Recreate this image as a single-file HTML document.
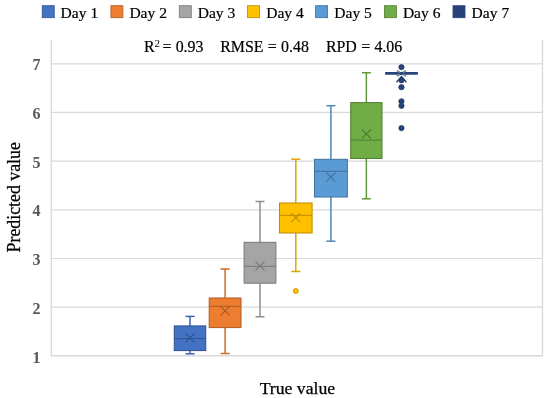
<!DOCTYPE html>
<html><head><meta charset="utf-8"><title>Box plot</title>
<style>
html,body{margin:0;padding:0;background:#fff;}
body{width:550px;height:398px;overflow:hidden;font-family:"Liberation Serif",serif;}
svg{display:block;}
text{font-family:"Liberation Serif",serif;}
</style></head><body>
<svg width="550" height="398" viewBox="0 0 550 398">
<rect width="550" height="398" fill="#fff"/>

<line x1="51" x2="542.5" y1="355.8" y2="355.8" stroke="#d9d9d9" stroke-width="1.5"/>
<line x1="51" x2="542.5" y1="307.1" y2="307.1" stroke="#d9d9d9" stroke-width="1.2"/>
<line x1="51" x2="542.5" y1="258.5" y2="258.5" stroke="#d9d9d9" stroke-width="1.2"/>
<line x1="51" x2="542.5" y1="209.8" y2="209.8" stroke="#d9d9d9" stroke-width="1.2"/>
<line x1="51" x2="542.5" y1="161.1" y2="161.1" stroke="#d9d9d9" stroke-width="1.2"/>
<line x1="51" x2="542.5" y1="112.4" y2="112.4" stroke="#d9d9d9" stroke-width="1.2"/>
<line x1="51" x2="542.5" y1="63.8" y2="63.8" stroke="#d9d9d9" stroke-width="1.2"/>
<line x1="51.25" x2="51.25" y1="39.5" y2="356.4" stroke="#d9d9d9" stroke-width="1.3"/>
<line x1="542.5" x2="542.5" y1="40" y2="356.4" stroke="#d9d9d9" stroke-width="1.3"/>
<text x="36.5" y="362.7" font-size="16" font-weight="bold" fill="#595959" text-anchor="middle">1</text>
<text x="36.5" y="313.9" font-size="16" font-weight="bold" fill="#595959" text-anchor="middle">2</text>
<text x="36.5" y="265.1" font-size="16" font-weight="bold" fill="#595959" text-anchor="middle">3</text>
<text x="36.5" y="216.3" font-size="16" font-weight="bold" fill="#595959" text-anchor="middle">4</text>
<text x="36.5" y="167.5" font-size="16" font-weight="bold" fill="#595959" text-anchor="middle">5</text>
<text x="36.5" y="118.8" font-size="16" font-weight="bold" fill="#595959" text-anchor="middle">6</text>
<text x="36.5" y="70.0" font-size="16" font-weight="bold" fill="#595959" text-anchor="middle">7</text>
<rect x="42.25" y="5.7" width="12" height="12" fill="#4472C4" stroke="#2F528F" stroke-width="0.8"/>
<text x="60.6" y="17.5" font-size="15.55" fill="#000" stroke="#000" stroke-width="0.2">Day 1</text>
<rect x="110.9" y="5.7" width="12" height="12" fill="#ED7D31" stroke="#AE5A21" stroke-width="0.8"/>
<text x="129.4" y="17.5" font-size="15.55" fill="#000" stroke="#000" stroke-width="0.2">Day 2</text>
<rect x="179.3" y="5.7" width="12" height="12" fill="#A5A5A5" stroke="#787878" stroke-width="0.8"/>
<text x="197.7" y="17.5" font-size="15.55" fill="#000" stroke="#000" stroke-width="0.2">Day 3</text>
<rect x="247.5" y="5.7" width="12" height="12" fill="#FFC000" stroke="#BC8C00" stroke-width="0.8"/>
<text x="266.2" y="17.5" font-size="15.55" fill="#000" stroke="#000" stroke-width="0.2">Day 4</text>
<rect x="315.6" y="5.7" width="12" height="12" fill="#5B9BD5" stroke="#41719C" stroke-width="0.8"/>
<text x="334.3" y="17.5" font-size="15.55" fill="#000" stroke="#000" stroke-width="0.2">Day 5</text>
<rect x="384.4" y="5.7" width="12" height="12" fill="#70AD47" stroke="#507E32" stroke-width="0.8"/>
<text x="402.9" y="17.5" font-size="15.55" fill="#000" stroke="#000" stroke-width="0.2">Day 6</text>
<rect x="453" y="5.7" width="12" height="12" fill="#264478" stroke="#264478" stroke-width="0.8"/>
<text x="471.6" y="17.5" font-size="15.55" fill="#000" stroke="#000" stroke-width="0.2">Day 7</text>
<text y="52.4" font-size="15.9" fill="#000" stroke="#000" stroke-width="0.2" word-spacing="0.35" xml:space="preserve"><tspan x="144">R</tspan><tspan x="154.6" y="47" font-size="11" stroke="none">2</tspan><tspan x="158.6" y="52.4"> </tspan><tspan x="162.4" y="52.4">= 0.93</tspan><tspan x="204" y="52.4">    </tspan><tspan x="220.2" y="52.4">RMSE = 0.48</tspan><tspan x="309" y="52.4">    </tspan><tspan x="325.9" y="52.4">RPD = 4.06</tspan></text>
<text x="297.4" y="393.8" font-size="17.7" fill="#000" stroke="#000" stroke-width="0.25" text-anchor="middle">True value</text>
<text transform="translate(20.3,197.3) rotate(-90) scale(1,1.1)" font-size="17.8" fill="#000" stroke="#000" stroke-width="0.25" text-anchor="middle">Predicted value</text>
<g stroke="#3A62AA" stroke-width="1.5" fill="none"><line x1="190.0" x2="190.0" y1="316.4" y2="325.9"/><line x1="190.0" x2="190.0" y1="350.6" y2="353.8"/><line x1="185.5" x2="194.5" y1="316.4" y2="316.4"/><line x1="185.5" x2="194.5" y1="353.8" y2="353.8"/></g>
<rect x="174.25" y="325.9" width="31.5" height="24.7" fill="#4472C4" stroke="#2F528F" stroke-width="1"/>
<line x1="174.25" x2="205.75" y1="338.6" y2="338.6" stroke="#2F528F" stroke-width="1"/>
<path d="M185.5 333.4L194.5 342.4M185.5 342.4L194.5 333.4" stroke="#2F528F" stroke-width="1.15" fill="none"/>
<g stroke="#CE6C29" stroke-width="1.5" fill="none"><line x1="225.1" x2="225.1" y1="269" y2="298"/><line x1="225.1" x2="225.1" y1="327.6" y2="353.5"/><line x1="220.6" x2="229.6" y1="269" y2="269"/><line x1="220.6" x2="229.6" y1="353.5" y2="353.5"/></g>
<rect x="209.20" y="298" width="31.8" height="29.6" fill="#ED7D31" stroke="#AE5A21" stroke-width="1"/>
<line x1="209.20" x2="241.00" y1="306.3" y2="306.3" stroke="#AE5A21" stroke-width="1"/>
<path d="M220.6 306.4L229.6 315.4M220.6 315.4L229.6 306.4" stroke="#AE5A21" stroke-width="1.15" fill="none"/>
<g stroke="#8E8E8E" stroke-width="1.5" fill="none"><line x1="260" x2="260" y1="201.5" y2="242.3"/><line x1="260" x2="260" y1="283.2" y2="316.8"/><line x1="255.5" x2="264.5" y1="201.5" y2="201.5"/><line x1="255.5" x2="264.5" y1="316.8" y2="316.8"/></g>
<rect x="244.10" y="242.3" width="31.8" height="40.9" fill="#A5A5A5" stroke="#787878" stroke-width="1"/>
<line x1="244.10" x2="275.90" y1="266.3" y2="266.3" stroke="#787878" stroke-width="1"/>
<path d="M255.5 261.3L264.5 270.3M255.5 270.3L264.5 261.3" stroke="#787878" stroke-width="1.15" fill="none"/>
<g stroke="#DEA600" stroke-width="1.5" fill="none"><line x1="295.8" x2="295.8" y1="159.2" y2="203"/><line x1="295.8" x2="295.8" y1="233" y2="271.5"/><line x1="291.3" x2="300.3" y1="159.2" y2="159.2"/><line x1="291.3" x2="300.3" y1="271.5" y2="271.5"/></g>
<rect x="279.50" y="203" width="32.6" height="30.0" fill="#FFC000" stroke="#BC8C00" stroke-width="1"/>
<line x1="279.50" x2="312.10" y1="215.3" y2="215.3" stroke="#BC8C00" stroke-width="1"/>
<path d="M291.3 213.1L300.3 222.1M291.3 222.1L300.3 213.1" stroke="#BC8C00" stroke-width="1.15" fill="none"/>
<g stroke="#4E86B8" stroke-width="1.5" fill="none"><line x1="330.9" x2="330.9" y1="105.7" y2="159.3"/><line x1="330.9" x2="330.9" y1="197.0" y2="241.2"/><line x1="326.4" x2="335.4" y1="105.7" y2="105.7"/><line x1="326.4" x2="335.4" y1="241.2" y2="241.2"/></g>
<rect x="314.45" y="159.3" width="32.9" height="37.7" fill="#5B9BD5" stroke="#41719C" stroke-width="1"/>
<line x1="314.45" x2="347.35" y1="171.3" y2="171.3" stroke="#41719C" stroke-width="1"/>
<path d="M326.4 172.7L335.4 181.7M326.4 181.7L335.4 172.7" stroke="#41719C" stroke-width="1.15" fill="none"/>
<g stroke="#60963C" stroke-width="1.5" fill="none"><line x1="366.35" x2="366.35" y1="72.7" y2="102.6"/><line x1="366.35" x2="366.35" y1="158.5" y2="198.8"/><line x1="361.85" x2="370.85" y1="72.7" y2="72.7"/><line x1="361.85" x2="370.85" y1="198.8" y2="198.8"/></g>
<rect x="350.70" y="102.6" width="31.3" height="55.9" fill="#70AD47" stroke="#507E32" stroke-width="1"/>
<line x1="350.70" x2="382.00" y1="140.1" y2="140.1" stroke="#507E32" stroke-width="1"/>
<path d="M361.85 129.5L370.85 138.5M361.85 138.5L370.85 129.5" stroke="#507E32" stroke-width="1.15" fill="none"/>
<circle cx="295.8" cy="291" r="2.5" fill="#FFC000" stroke="#C99700" stroke-width="0.9"/>
<line x1="385.15" x2="417.85" y1="73.4" y2="73.4" stroke="#264478" stroke-width="2.7"/>
<path d="M396.85 70.6L406.05 76.2M396.85 76.2L406.05 70.6" stroke="#7d90b2" stroke-width="1.7" fill="none"/>
<rect x="399.55" y="72.05" width="3.8" height="2.7" fill="#264478"/>
<path d="M396.55 82.3L401.45 76.6L406.35 82.3" stroke="#264478" stroke-width="1.5" fill="none" stroke-linejoin="miter"/>
<circle cx="401.45" cy="67.1" r="2.65" fill="#264478" stroke="#1c3359" stroke-width="0.7"/>
<circle cx="401.45" cy="80.3" r="2.65" fill="#264478" stroke="#1c3359" stroke-width="0.7"/>
<circle cx="401.45" cy="87.2" r="2.65" fill="#264478" stroke="#1c3359" stroke-width="0.7"/>
<circle cx="401.45" cy="101.3" r="2.65" fill="#264478" stroke="#1c3359" stroke-width="0.7"/>
<circle cx="401.45" cy="105.8" r="2.65" fill="#264478" stroke="#1c3359" stroke-width="0.7"/>
<circle cx="401.45" cy="128.1" r="2.65" fill="#264478" stroke="#1c3359" stroke-width="0.7"/>
</svg></body></html>
